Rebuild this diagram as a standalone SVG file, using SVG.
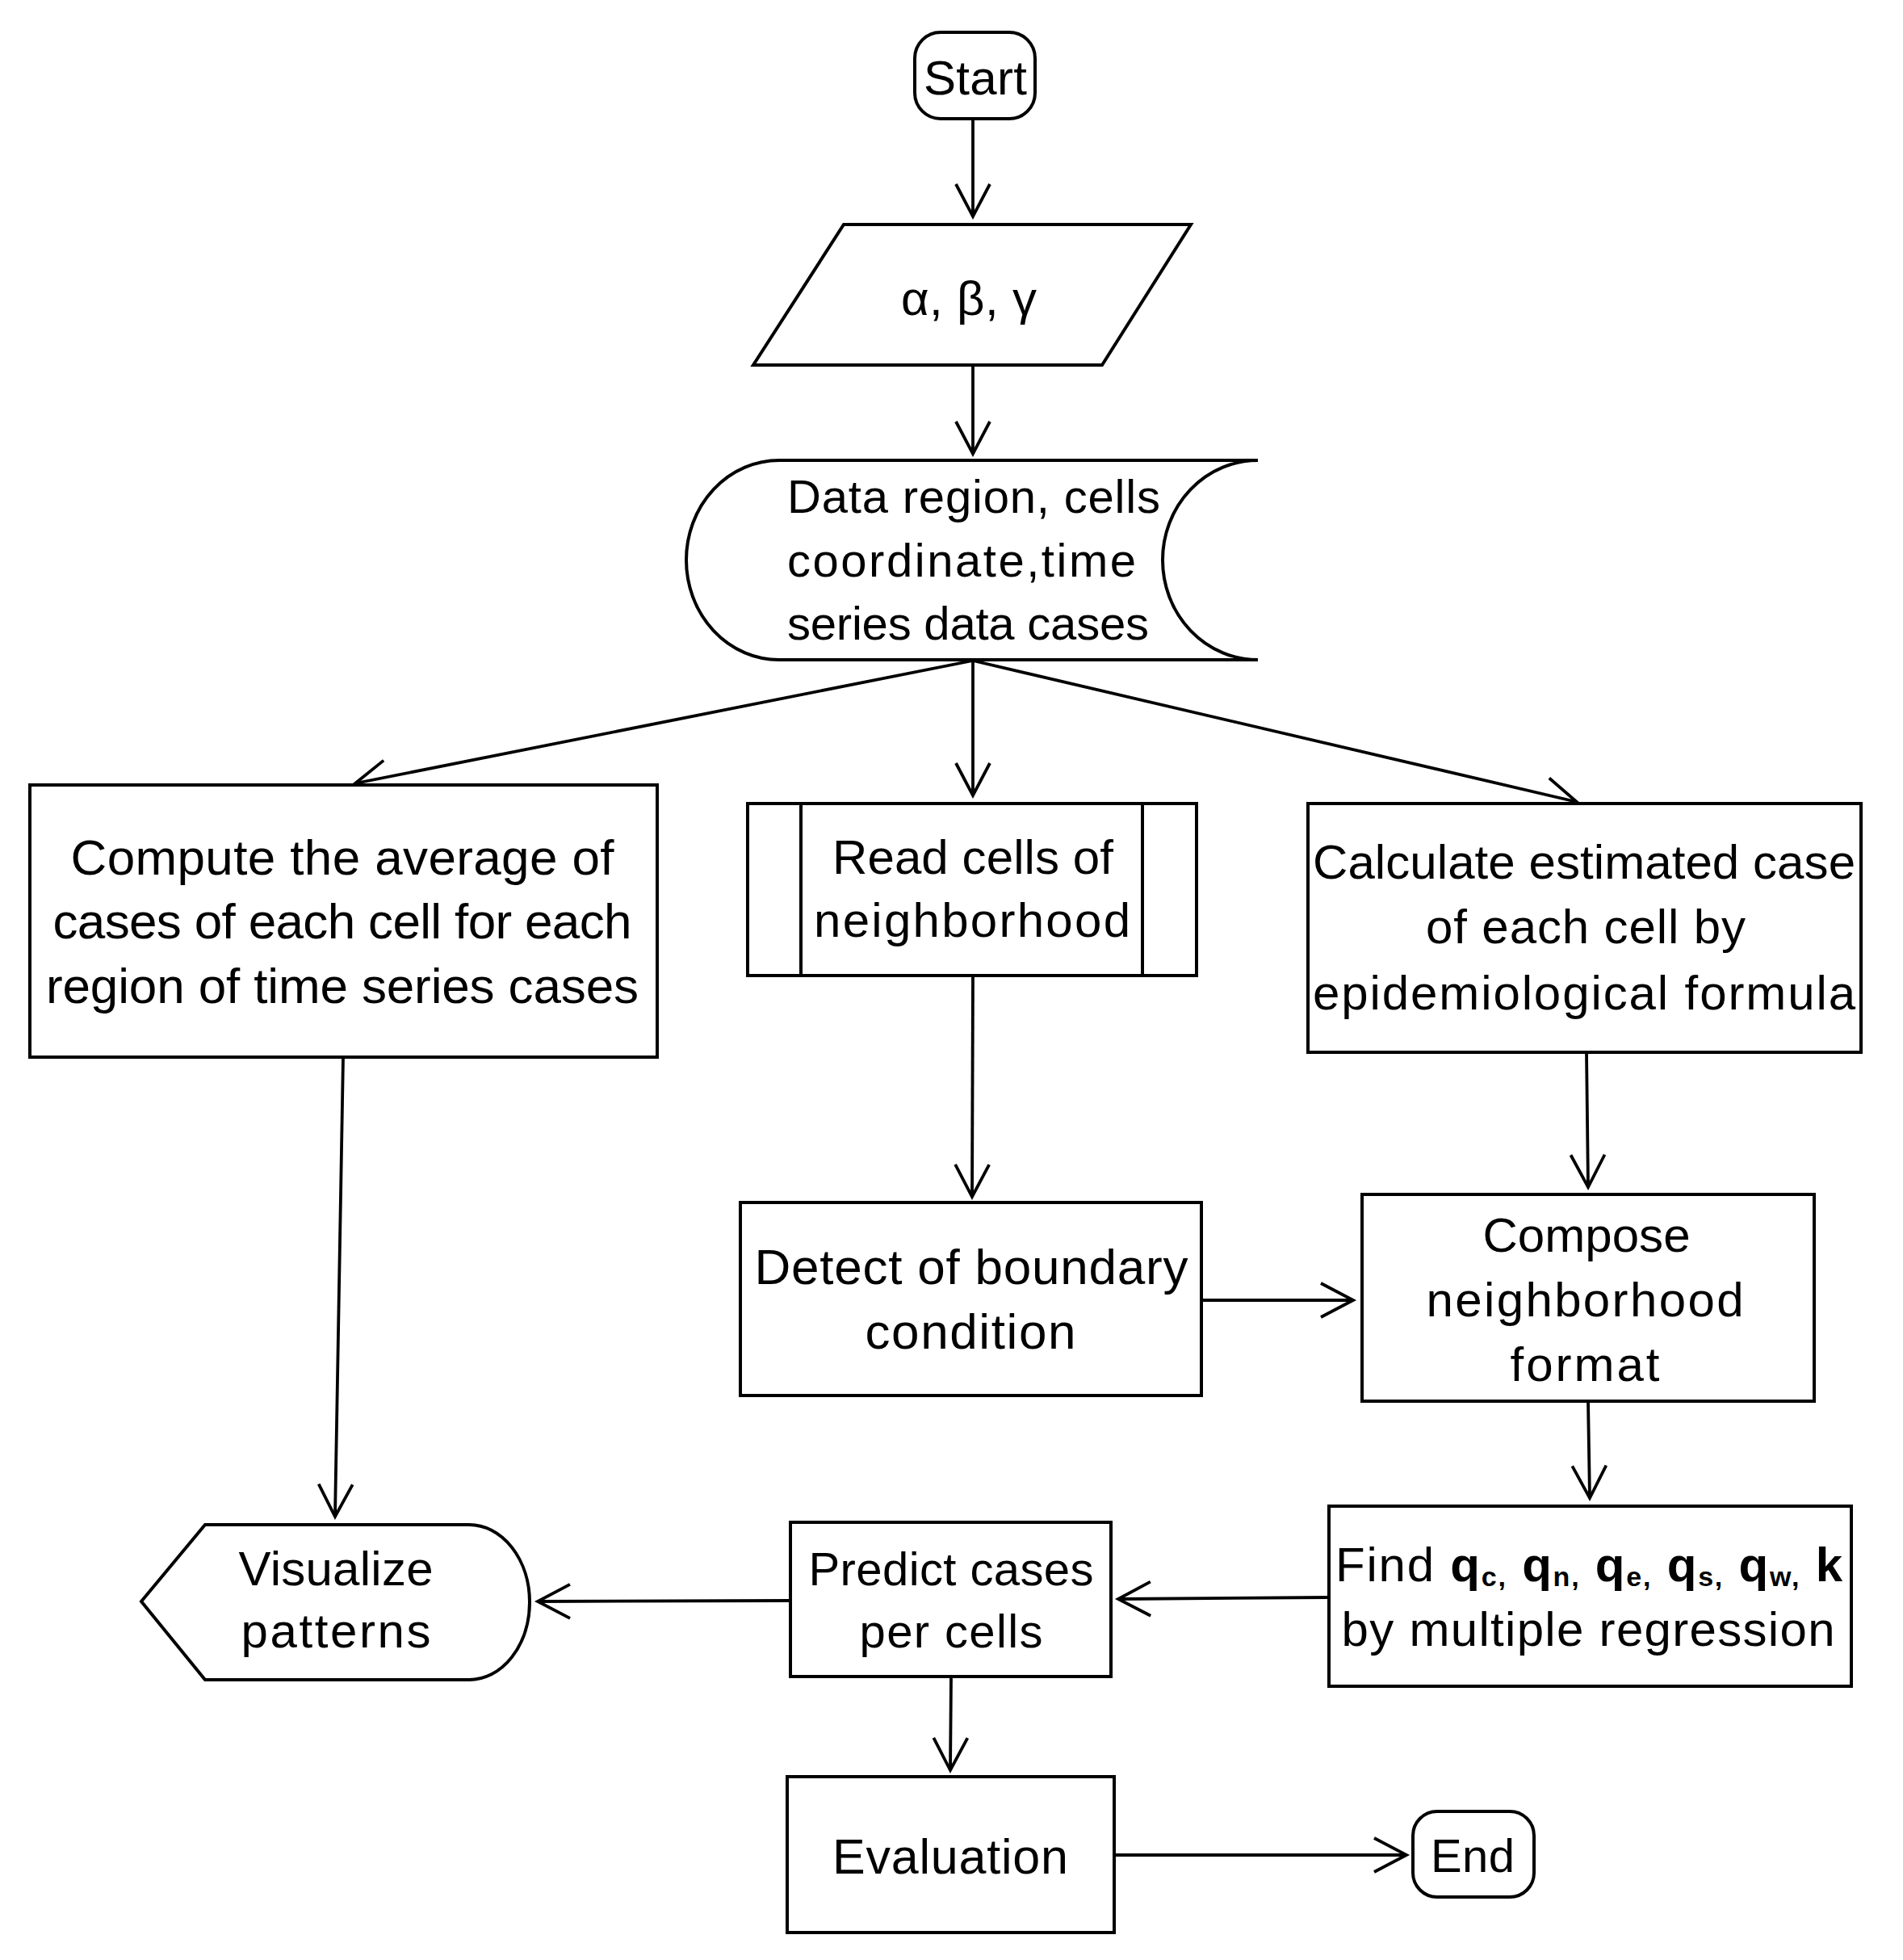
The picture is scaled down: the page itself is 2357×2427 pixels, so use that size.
<svg xmlns="http://www.w3.org/2000/svg" width="2357" height="2427" viewBox="0 0 2357 2427">
<defs>
<style>
.shape{fill:#fff;stroke:#000;stroke-width:4;stroke-linejoin:miter}
.conn{fill:none;stroke:#000;stroke-width:3.8}
text{font-family:"Liberation Sans",Arial,sans-serif;fill:#000}
.c{text-anchor:middle}
.b{font-weight:bold}
</style>
<marker id="arr" viewBox="-46 -26 52 52" refX="0" refY="0" markerWidth="52" markerHeight="52" markerUnits="userSpaceOnUse" orient="auto">
<path d="M-40,-21 L0,0 L-40,21" fill="none" stroke="#000" stroke-width="3.8"/>
</marker>
</defs>
<rect width="2357" height="2427" fill="#fff"/>

<g id="connectors">
<line class="conn" x1="1205" y1="147" x2="1205" y2="268" marker-end="url(#arr)"/>
<line class="conn" x1="1205" y1="452" x2="1205" y2="562" marker-end="url(#arr)"/>
<line class="conn" x1="1205" y1="818" x2="440" y2="970" marker-end="url(#arr)"/>
<line class="conn" x1="1205" y1="818" x2="1205" y2="985" marker-end="url(#arr)"/>
<line class="conn" x1="1205" y1="818" x2="1953" y2="993" marker-end="url(#arr)"/>
<line class="conn" x1="425" y1="1309" x2="415" y2="1878" marker-end="url(#arr)"/>
<line class="conn" x1="1205" y1="1209" x2="1204" y2="1482" marker-end="url(#arr)"/>
<line class="conn" x1="1965" y1="1303" x2="1967" y2="1470" marker-end="url(#arr)"/>
<line class="conn" x1="1489" y1="1610" x2="1676" y2="1610" marker-end="url(#arr)"/>
<line class="conn" x1="1967" y1="1735" x2="1969" y2="1855" marker-end="url(#arr)"/>
<line class="conn" x1="1646" y1="1978" x2="1385" y2="1980" marker-end="url(#arr)"/>
<line class="conn" x1="979" y1="1982" x2="666" y2="1983" marker-end="url(#arr)"/>
<line class="conn" x1="1178" y1="2077" x2="1177" y2="2192" marker-end="url(#arr)"/>
<line class="conn" x1="1380" y1="2297" x2="1742" y2="2297" marker-end="url(#arr)"/>
</g>

<g id="start">
<rect class="shape" x="1133" y="40" width="149" height="107" rx="32" ry="32"/>
<text class="c" x="1208" y="117" font-size="60" textLength="128">Start</text>
</g>

<g id="params">
<polygon class="shape" points="1045,278 1475,278 1365,452 933,452"/>
<text class="c" x="1200" y="390" font-size="60" textLength="168">α, β, γ</text>
</g>

<g id="data">
<path class="shape" d="M965,570 L1558,570 A118,123.5 0 0 0 1558,817 L965,817 A115,123.5 0 0 1 965,570 Z"/>
<text x="975" y="635" font-size="58" textLength="462">Data region, cells</text>
<text x="975" y="714" font-size="58" textLength="432">coordinate,time</text>
<text x="975" y="792" font-size="58" textLength="448">series data cases</text>
</g>

<g id="compute">
<rect class="shape" x="37" y="972" width="777" height="337"/>
<text class="c" x="424" y="1083" font-size="62" textLength="673">Compute the average of</text>
<text class="c" x="424" y="1162" font-size="62" textLength="717">cases of each cell for each</text>
<text class="c" x="424" y="1242" font-size="62" textLength="734">region of time series cases</text>
</g>

<g id="read">
<rect class="shape" x="926" y="995" width="556" height="213"/>
<line class="shape" x1="992" y1="995" x2="992" y2="1208"/>
<line class="shape" x1="1415" y1="995" x2="1415" y2="1208"/>
<text class="c" x="1205" y="1082" font-size="60" textLength="348">Read cells of</text>
<text class="c" x="1204" y="1160" font-size="60" textLength="392">neighborhood</text>
</g>

<g id="calculate">
<rect class="shape" x="1620" y="995" width="685" height="308"/>
<text class="c" x="1962" y="1088" font-size="60" textLength="672">Calculate estimated case</text>
<text class="c" x="1964" y="1168" font-size="60" textLength="396">of each cell by</text>
<text class="c" x="1962" y="1250" font-size="60" textLength="672">epidemiological formula</text>
</g>

<g id="detect">
<rect class="shape" x="917" y="1489" width="571" height="239"/>
<text class="c" x="1203" y="1590" font-size="62" textLength="537">Detect of boundary</text>
<text class="c" x="1202" y="1670" font-size="62" textLength="261">condition</text>
</g>

<g id="compose">
<rect class="shape" x="1687" y="1479" width="560" height="256"/>
<text class="c" x="1965" y="1550" font-size="60" textLength="257">Compose</text>
<text class="c" x="1963" y="1630" font-size="60" textLength="393">neighborhood</text>
<text class="c" x="1963" y="1710" font-size="60" textLength="185">format</text>
</g>

<g id="find">
<rect class="shape" x="1646" y="1865" width="647" height="223"/>
<text x="1654" y="1958" font-size="60" textLength="628">Find <tspan class="b">q</tspan><tspan class="b" font-size="34" dy="6">c,</tspan><tspan dy="-6"> </tspan><tspan class="b">q</tspan><tspan class="b" font-size="34" dy="6">n,</tspan><tspan dy="-6"> </tspan><tspan class="b">q</tspan><tspan class="b" font-size="34" dy="6">e,</tspan><tspan dy="-6"> </tspan><tspan class="b">q</tspan><tspan class="b" font-size="34" dy="6">s,</tspan><tspan dy="-6"> </tspan><tspan class="b">q</tspan><tspan class="b" font-size="34" dy="6">w,</tspan><tspan dy="-6"> </tspan><tspan class="b">k</tspan></text>
<text class="c" x="1967" y="2038" font-size="60" textLength="611">by multiple regression</text>
</g>

<g id="predict">
<rect class="shape" x="979" y="1885" width="397" height="191"/>
<text class="c" x="1178" y="1963" font-size="58" textLength="353">Predict cases</text>
<text class="c" x="1178" y="2040" font-size="58" textLength="227">per cells</text>
</g>

<g id="visualize">
<path class="shape" d="M175,1983 L254,1888 L581,1888 A75,96 0 0 1 581,2080 L254,2080 Z"/>
<text class="c" x="416" y="1963" font-size="60" textLength="241">Visualize</text>
<text class="c" x="416" y="2040" font-size="60" textLength="235">patterns</text>
</g>

<g id="evaluation">
<rect class="shape" x="975" y="2200" width="405" height="193"/>
<text class="c" x="1177" y="2320" font-size="61" textLength="292">Evaluation</text>
</g>

<g id="end">
<rect class="shape" x="1750" y="2243" width="150" height="106" rx="30" ry="30"/>
<text class="c" x="1824" y="2318" font-size="58" textLength="104">End</text>
</g>
</svg>
